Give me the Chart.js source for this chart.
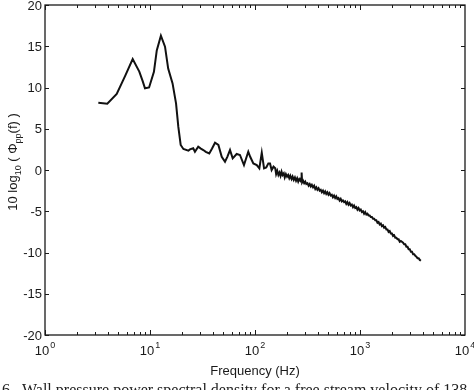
<!DOCTYPE html>
<html>
<head>
<meta charset="utf-8">
<script src="https://cdn.jsdelivr.net/npm/chart.js@4.4.1/dist/chart.umd.min.js"></script>
<style>
  html, body { margin: 0; padding: 0; background: #fff; }
  #wrap { width: 474px; height: 390px; position: relative; }
</style>
</head>
<body>
<div id="wrap"><canvas id="c" width="474" height="390"></canvas></div>
<script>
// ---- data ----
const freqHz = [
  3.22, 3.92, 4.82, 5.8, 6.84, 7.91, 8.5, 8.96, 9.8, 10.9, 11.6, 12.7, 13.9, 14.9, 16.4, 17.7, 18.6, 19.6,
  20.8, 23.2, 24.0, 25.8, 26.8, 28.8, 30.5, 32.2, 34, 36.7, 39, 41.6, 44.8, 48.2, 51.8, 54.5, 57.8, 61.3,
  66.9, 71.9, 78.5, 86.3, 90, 96.4, 104, 110, 116, 122, 128, 134, 139, 144, 150,
  156, 159, 163, 167, 171, 175, 179, 183, 188, 192, 197, 202, 207, 212, 217, 223, 228, 234, 240, 246,
  252, 258, 264, 270, 275, 278, 281, 287, 294, 301, 308, 316, 324, 332, 340, 348, 357, 366, 375, 384,
  393, 403, 413, 423, 433, 444, 455, 466, 477, 489, 501, 513, 526, 539, 552, 566, 580, 594, 609, 624,
  639, 655, 671, 688, 705, 722, 740, 758, 777, 796, 816, 836, 857, 878, 900, 922, 945, 968, 992, 1017,
  1042, 1068, 1094, 1121, 1149, 1177, 1206, 1236, 1267, 1298, 1330, 1363, 1397, 1431, 1467, 1503, 1540,
  1578, 1617, 1657, 1698, 1740, 1783, 1827, 1872, 1918, 1966, 2014, 2064, 2115, 2167, 2221, 2276, 2332,
  2390, 2449, 2509, 2571, 2635, 2700, 2767, 2835, 2905, 2977, 3050, 3126, 3203, 3282, 3363, 3446, 3531,
  3618, 3708, 3800
];
const psdDb = [
  8.16, 8.04, 9.21, 11.4, 13.45, 11.92, 10.8, 9.9, 10.0, 11.9, 14.5, 16.28, 14.95, 12.3, 10.5, 8.08, 5.25, 3.03,
  2.55, 2.34, 2.5, 2.63, 2.22, 2.82, 2.6, 2.42, 2.2, 2.0, 2.6, 3.3, 3.03, 1.61, 1.0, 1.6, 2.42, 1.41,
  1.94, 1.82, 0.6, 2.22, 1.6, 0.8, 0.6, 0.2, 2.1, 0.2, 0.3, 0.8, 0.8, 0.0, 0.4,
  0.2, -0.5, -0.1, -0.6, -0.3, -0.7, -0.2, -0.6, -0.4, -0.9, -0.5, -0.8, -0.6, -1.0, -0.7, -1.1, -0.8, -1.2, -0.9, -1.3,
  -1.0, -1.4, -1.1, -1.3, -1.0, -0.3, -1.5, -1.3, -1.6, -1.4, -1.7, -1.6, -1.9, -1.7, -2.0, -1.8, -2.1, -1.9, -2.3, -2.1,
  -2.4, -2.2, -2.5, -2.4, -2.7, -2.5, -2.8, -2.6, -2.9, -2.7, -3.0, -2.8, -3.1, -3.0, -3.3, -3.1, -3.4, -3.2, -3.5, -3.4,
  -3.7, -3.5, -3.8, -3.7, -3.9, -3.8, -4.1, -3.9, -4.2, -4.0, -4.3, -4.2, -4.5, -4.3, -4.6, -4.5, -4.8, -4.6, -4.9, -4.8,
  -5.1, -5.0, -5.3, -5.1, -5.4, -5.3, -5.5, -5.5, -5.7, -5.7, -5.9, -5.9, -6.1, -6.1, -6.4, -6.3, -6.6,
  -6.5, -6.8, -6.7, -7.0, -6.9, -7.2, -7.2, -7.5, -7.4, -7.7, -7.7, -8.0, -7.9, -8.2, -8.2, -8.4, -8.4,
  -8.7, -8.6, -8.7, -8.8, -9.0, -9.0, -9.3, -9.3, -9.6, -9.6, -9.9, -9.9, -10.2, -10.2, -10.4, -10.5, -10.7,
  -10.7, -10.9, -11.0
];
const xTickExponents = [0, 1, 2, 3, 4];
const yTickValues = [20, 15, 10, 5, 0, -5, -10, -15, -20];
const xTitle = "Frequency (Hz)";
const captionText = "6.  Wall pressure power spectral density for a free stream velocity of 138";

const points = freqHz.map((f, i) => ({ x: f, y: psdDb[i] }));

const FONT = '"Liberation Sans", Arial, Helvetica, sans-serif';
const INK = '#1a1a1a';

const decorPlugin = {
  id: 'decor',
  afterDraw(chart) {
    const ctx = chart.ctx;
    const xs = chart.scales.x, ys = chart.scales.y;
    const a = chart.chartArea;
    ctx.save();
    // box
    ctx.strokeStyle = INK;
    ctx.lineWidth = 1.3;
    ctx.strokeRect(a.left, a.top, a.right - a.left, a.bottom - a.top);
    // x ticks (inward, top and bottom)
    ctx.lineWidth = 1;
    ctx.beginPath();
    for (let e = 0; e < 4; e++) {
      for (let m = 1; m <= 9; m++) {
        const v = m * Math.pow(10, e);
        const px = Math.round(xs.getPixelForValue(v)) + 0.5;
        const len = m === 1 ? 5 : 3;
        ctx.moveTo(px, a.bottom); ctx.lineTo(px, a.bottom - len);
        ctx.moveTo(px, a.top); ctx.lineTo(px, a.top + len);
      }
    }
    // y ticks (inward, left and right)
    yTickValues.forEach(v => {
      const py = Math.round(ys.getPixelForValue(v)) + 0.5;
      ctx.moveTo(a.left, py); ctx.lineTo(a.left + 4, py);
      ctx.moveTo(a.right, py); ctx.lineTo(a.right - 4, py);
    });
    ctx.stroke();

    // y tick labels
    ctx.fillStyle = INK;
    ctx.font = '13px ' + FONT;
    ctx.textAlign = 'right';
    ctx.textBaseline = 'middle';
    yTickValues.forEach(v => {
      ctx.fillText(String(v), a.left - 3, ys.getPixelForValue(v) + 1);
    });

    // x tick labels 10^n
    ctx.textBaseline = 'alphabetic';
    ctx.textAlign = 'left';
    xTickExponents.forEach(e => {
      const px = xs.getPixelForValue(Math.pow(10, e));
      ctx.font = '13px ' + FONT;
      const w1 = ctx.measureText('10').width;
      ctx.font = '9px ' + FONT;
      const w2 = ctx.measureText(String(e)).width;
      const x0 = px - (w1 + w2 + 1) / 2;
      ctx.font = '13px ' + FONT;
      ctx.fillText('10', x0, 355);
      ctx.font = '9px ' + FONT;
      ctx.fillText(String(e), x0 + w1 + 1, 348);
    });

    // x title
    ctx.font = '13px ' + FONT;
    ctx.textAlign = 'center';
    ctx.fillText(xTitle, (a.left + a.right) / 2, 375);

    // y title (rotated, with subscripts)
    ctx.translate(17, (a.top + a.bottom) / 2 - 8);
    ctx.rotate(-Math.PI / 2);
    const parts = [
      { t: '10 log', sub: false },
      { t: '10', sub: true },
      { t: ' ( \u03A6', sub: false },
      { t: 'pp', sub: true },
      { t: '(f) )', sub: false }
    ];
    let total = 0;
    parts.forEach(p => {
      ctx.font = (p.sub ? '9px ' : '13px ') + FONT;
      p.w = ctx.measureText(p.t).width;
      total += p.w;
    });
    let cx = -total / 2;
    ctx.textAlign = 'left';
    parts.forEach(p => {
      ctx.font = (p.sub ? '9px ' : '13px ') + FONT;
      ctx.fillText(p.t, cx, p.sub ? 4 : 0);
      cx += p.w;
    });
    ctx.restore();

    // caption (cut by the bottom edge)
    ctx.save();
    ctx.fillStyle = '#222';
    ctx.font = '16px "Liberation Serif", "Times New Roman", serif';
    ctx.textAlign = 'left';
    ctx.textBaseline = 'alphabetic';
    ctx.fillText(captionText, 2, 395);
    ctx.restore();
  }
};

new Chart(document.getElementById('c'), {
  type: 'line',
  data: {
    datasets: [{
      data: points,
      borderColor: '#111',
      borderWidth: 2,
      pointRadius: 0,
      tension: 0,
      fill: false
    }]
  },
  options: {
    responsive: false,
    animation: false,
    events: [],
    layout: { padding: { left: 0, right: 9, top: 5, bottom: 0 } },
    plugins: { legend: { display: false }, tooltip: { enabled: false } },
    scales: {
      x: {
        type: 'logarithmic',
        min: 1, max: 10000,
        grid: { display: false },
        border: { display: false },
        ticks: { display: false },
        afterFit(s) { s.height = 55; }
      },
      y: {
        type: 'linear',
        min: -20, max: 20,
        grid: { display: false },
        border: { display: false },
        ticks: { display: false, stepSize: 5 },
        afterFit(s) { s.width = 45; }
      }
    }
  },
  plugins: [decorPlugin]
});
</script>
</body>
</html>
